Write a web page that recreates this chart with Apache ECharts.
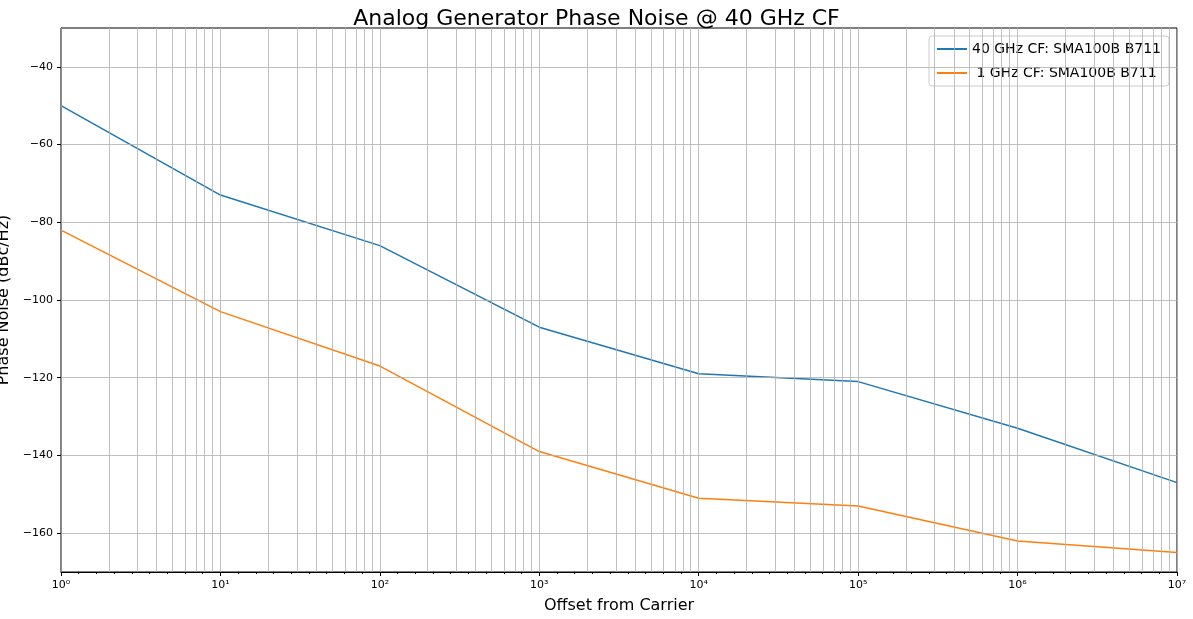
<!DOCTYPE html>
<html>
<head>
<meta charset="utf-8">
<script src="https://cdn.jsdelivr.net/npm/echarts@6/dist/echarts.min.js"></script>
<style>html,body{margin:0;padding:0;background:#fff}#chart{width:1193px;height:619px}</style>
</head>
<body>
<div id="chart"></div>
<script>
// offsets (Hz) and phase noise (dBc/Hz)
var offsets = [1, 10, 100, 1e3, 1e4, 1e5, 1e6, 1e7];
var noise40 = [-50, -73, -86, -107, -119, -121, -133, -147];
var noise1 = [-82, -103, -117, -139, -151, -153, -162, -165];
var yTicks = [-160, -140, -120, -100, -80, -60, -40];
var sup = ['⁰', '¹', '²', '³', '⁴', '⁵', '⁶', '⁷'];

function pairs(ys) {
    var out = [];
    for (var i = 0; i < offsets.length; i++) out.push([Math.log10(offsets[i]), ys[i]]);
    return out;
}

// vertical grid lines at every k*10^n (log positions)
var vLines = [];
for (var n = 0; n < 7; n++) {
    for (var k = 1; k <= 9; k++) vLines.push({ xAxis: Math.log10(k * Math.pow(10, n)) });
}
vLines.push({ xAxis: 7 });
var hLines = yTicks.map(function (v) { return { yAxis: v }; });

var myChart = echarts.init(document.getElementById('chart'));
var option = {
    animation: false,
    title: {
        text: 'Analog Generator Phase Noise @ 40 GHz CF',
        left: 'center', top: 3,
        textStyle: { fontFamily: 'DejaVu Sans', fontSize: 22, fontWeight: 'normal', color: '#000' }
    },
    legend: {
        right: 24, top: 36, orient: 'vertical',
        borderColor: '#ccc', borderWidth: 1, borderRadius: 3, padding: [6, 8],
        icon: 'rect', itemWidth: 30, itemHeight: 2, itemGap: 10,
        textStyle: { fontFamily: 'DejaVu Sans', fontSize: 14, color: '#000' },
        data: ['40 GHz CF: SMA100B B711', ' 1 GHz CF: SMA100B B711']
    },
    grid: {
        left: 61, right: 16, top: 28, bottom: 47,
        containLabel: false, outerBoundsMode: 'none',
        show: true, borderColor: '#000', borderWidth: 1
    },
    xAxis: {
        type: 'value', min: 0, max: 7, interval: 1,
        name: 'Offset from Carrier', nameLocation: 'middle', nameGap: 26,
        nameTextStyle: { fontFamily: 'DejaVu Sans', fontSize: 16, color: '#000' },
        axisLine: { onZero: false, lineStyle: { color: '#000' } },
        axisTick: { show: true, length: 4, lineStyle: { color: '#000' } },
        minorTick: { show: true, splitNumber: 9, length: 2 },
        axisLabel: {
            fontFamily: 'DejaVu Sans', fontSize: 11, color: '#000',
            formatter: function (v) { return '10' + sup[v]; }
        },
        splitLine: { show: false }
    },
    yAxis: {
        type: 'value', min: -170, max: -30,
        name: 'Phase Noise (dBc/Hz)', nameLocation: 'middle', nameGap: 40,
        nameTextStyle: { fontFamily: 'DejaVu Sans', fontSize: 16, color: '#000' },
        axisLine: { show: true, lineStyle: { color: '#000' } },
        axisTick: { show: true, length: 4, customValues: yTicks, lineStyle: { color: '#000' } },
        axisLabel: {
            fontFamily: 'DejaVu Sans', fontSize: 11, color: '#000', customValues: yTicks,
            formatter: function (v) { return String(v).replace('-', '\u2212'); }
        },
        splitLine: { show: false }
    },
    series: [
        {
            name: 'grid', type: 'line', data: [], silent: true,
            markLine: {
                symbol: 'none', silent: true, label: { show: false },
                lineStyle: { color: '#b0b0b0', width: 0.8, type: 'solid' },
                data: vLines.concat(hLines)
            }
        },
        {
            name: '40 GHz CF: SMA100B B711', type: 'line', data: pairs(noise40),
            showSymbol: false, lineStyle: { color: '#1f77b4', width: 1.5 }, itemStyle: { color: '#1f77b4' }
        },
        {
            name: ' 1 GHz CF: SMA100B B711', type: 'line', data: pairs(noise1),
            showSymbol: false, lineStyle: { color: '#ff7f0e', width: 1.5 }, itemStyle: { color: '#ff7f0e' }
        }
    ]
};
myChart.setOption(option);
</script>
</body>
</html>
